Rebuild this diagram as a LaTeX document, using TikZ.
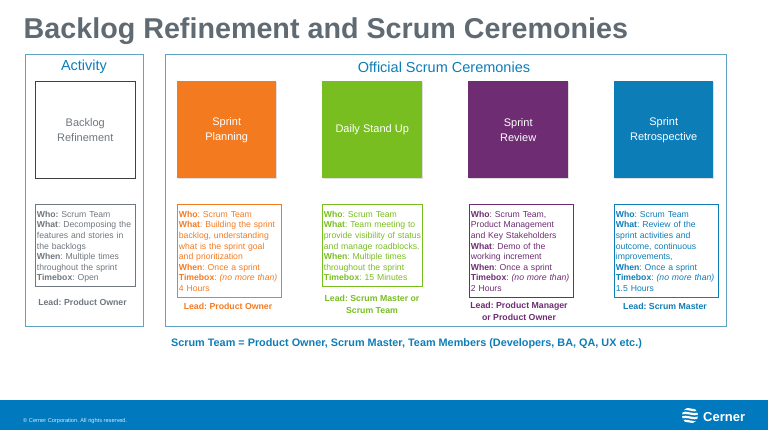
\documentclass[tikz,border=0pt]{standalone}
\usepackage{fontspec}
\setmainfont{Liberation Sans}
\usepackage{xcolor}
\usetikzlibrary{calc,shadows}
\definecolor{titlegray}{HTML}{5F6A73}
\definecolor{frameblue}{HTML}{5FA3C7}
\definecolor{headblue}{HTML}{0D7DB8}
\definecolor{graytext}{HTML}{6F7780}
\definecolor{orangefill}{HTML}{F47A20}
\definecolor{greenfill}{HTML}{78BE20}
\definecolor{purplefill}{HTML}{6E2C73}
\definecolor{bluefill}{HTML}{0D7DB8}
\definecolor{bandblue}{HTML}{0079BE}
\frenchspacing
\newcommand{\infolines}[1]{\raisebox{-1.5pt}[\height][\depth]{\begin{tabular}{@{}l@{}}#1\end{tabular}}}
\tikzset{
  frame/.style={draw=frameblue, line width=0.9pt},
  head/.style={text=headblue, font=\fontsize{14.5}{17}\selectfont},
  tile/.style={anchor=north west, minimum height=97pt, align=center, inner sep=0pt,
    font=\fontsize{11}{15}\selectfont, text=white,
    drop shadow={shadow xshift=0.8pt, shadow yshift=-0.8pt, opacity=0.25}},
  info/.style={anchor=north west, line width=0.8pt, align=left, inner xsep=2pt, inner ysep=4pt,
    font=\fontsize{8.65}{10.6}\selectfont},
  leadlab/.style={align=center, font=\fontsize{8.75}{12}\selectfont\bfseries},
}

\begin{document}
\begin{tikzpicture}[x=1pt,y=-1pt]
  \useasboundingbox (0,0) rectangle (768,433);

  % title
  \node[anchor=west, text=titlegray, font=\fontsize{28.7}{30}\selectfont\bfseries, inner sep=0pt] (title) at (23.5,31) {Backlog Refinement and Scrum Ceremonies};

  % outer frames
  \draw[frame] (25,54) rectangle (143,326);
  \draw[frame] (165,54) rectangle (726,326);
  \node[head] (activity) at (84,67) {Activity};
  \node[head] (official) at (444,67) {Official Scrum Ceremonies};

  % top tiles
  \node[tile, draw=black!75, line width=0.6pt, fill=white, text=graytext, minimum width=100pt] (backlog) at (35,81) {Backlog\\Refinement};
  \node[tile, fill=orangefill, minimum width=99pt] (planning) at (177,81) {Sprint\\Planning};
  \node[tile, fill=greenfill, minimum width=100pt] (standup) at (322,81) {Daily Stand Up};
  \node[tile, fill=purplefill, minimum width=100pt] (review) at (468,81) {Sprint\\Review};
  \node[tile, fill=bluefill, minimum width=99pt] (retro) at (614,81) {Sprint\\Retrospective};

  % who / what boxes
  \node[info, draw=graytext, text=graytext, text width=96.5pt] (backloginfo) at (34.5,204) {\infolines{\textbf{Who:} Scrum Team\\\textbf{What}: Decomposing the\\features and stories in\\the backlogs\\\textbf{When}: Multiple times\\throughout the sprint\\\textbf{Timebox}: Open}};
  \node[info, draw=orangefill, text=orangefill, text width=100pt] (planninginfo) at (176.5,204) {\infolines{\textbf{Who}: Scrum Team\\\textbf{What}: Building the sprint\\backlog, understanding\\what is the sprint goal\\and prioritization\\\textbf{When}: Once a sprint\\\textbf{Timebox}: \textit{(no more than)}\\4 Hours}};
  \node[info, draw=greenfill, text=greenfill, text width=96.5pt] (standupinfo) at (321.5,204) {\infolines{\textbf{Who}: Scrum Team\\\textbf{What}: Team meeting to\\provide visibility of status\\and manage roadblocks.\\\textbf{When}: Multiple times\\throughout the sprint\\\textbf{Timebox}: 15 Minutes}};
  \node[info, draw=purplefill, text=purplefill, text width=100.5pt] (reviewinfo) at (468.5,204) {\infolines{\textbf{Who}: Scrum Team,\\Product Management\\and Key Stakeholders\\\textbf{What}: Demo of the\\working increment\\\textbf{When}: Once a sprint\\\textbf{Timebox}: \textit{(no more than)}\\2 Hours}};
  \node[info, draw=bluefill, text=bluefill, text width=100.5pt] (retroinfo) at (613.5,204) {\infolines{\textbf{Who}: Scrum Team\\\textbf{What}: Review of the\\sprint activities and\\outcome, continuous\\improvements,\\\textbf{When}: Once a sprint\\\textbf{Timebox}: \textit{(no more than)}\\1.5 Hours}};

  % leads
  \node[leadlab, text=graytext] (backloglead) at (82.5,302.5) {Lead: Product Owner};
  \node[leadlab, text=orangefill] (planninglead) at (228,306.5) {Lead: Product Owner};
  \node[leadlab, text=greenfill] (standuplead) at (372,304.5) {Lead: Scrum Master or\\Scrum Team};
  \node[leadlab, text=purplefill] (reviewlead) at (519,311.5) {Lead: Product Manager\\or Product Owner};
  \node[leadlab, text=bluefill] (retrolead) at (665,306.5) {Lead: Scrum Master};

  % team line
  \node[text=headblue, font=\fontsize{10.85}{12}\selectfont\bfseries] (teamline) at (406.5,343.5) {Scrum Team = Product Owner, Scrum Master, Team Members (Developers, BA, QA, UX etc.)};

  % footer band
  \fill[bandblue] (0,400) rectangle (768,430);
  \node[anchor=west, text=white!85!bandblue, font=\fontsize{5.65}{6}\selectfont, inner sep=0pt] (copyright) at (23,421) {© Cerner Corporation. All rights reserved.};

  % logo
  \coordinate (logo) at (690,415.5);
  \begin{scope}
    \clip (logo) circle (8pt);
    \foreach \yy in {-6,-2,2,6}
      \draw[white, line width=2.2pt] ($(logo)+(-9,\yy)$) .. controls ($(logo)+(-3,\yy-2.5)$) and ($(logo)+(3,\yy+2.5)$) .. ($(logo)+(9,\yy)$);
  \end{scope}
  \node[anchor=west, text=white, font=\fontsize{13}{14}\selectfont\bfseries, inner sep=0pt] (cerner) at (703,417) {Cerner};
\end{tikzpicture}
\end{document}
